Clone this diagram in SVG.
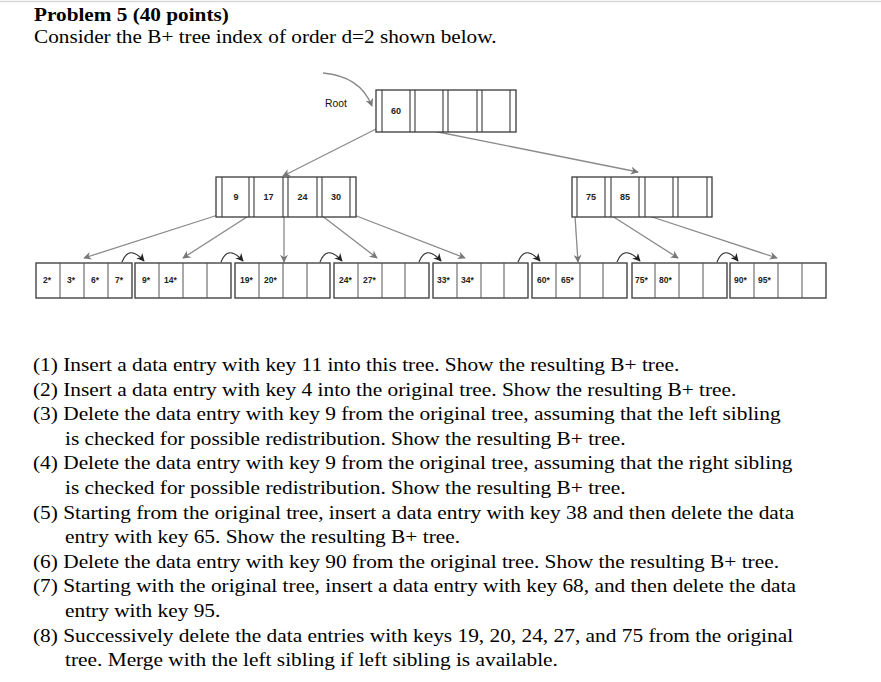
<svg xmlns="http://www.w3.org/2000/svg" width="881" height="682" viewBox="0 0 881 682">
<defs>
<style>
.bg{fill:#fff}
.q{font-family:"Liberation Serif","Times New Roman",serif;font-size:18.5px;fill:#000}
.h{font-family:"Liberation Serif","Times New Roman",serif;font-size:19.5px;fill:#000}
.box{fill:#fff;stroke:#3a3a3a;stroke-width:1.3}
.div{stroke:#3a3a3a;stroke-width:1.1}
.lbox{fill:#fff;stroke:#444;stroke-width:1.4}
.ldiv{stroke:#555;stroke-width:1}
.k{font-family:"Liberation Sans",Arial,sans-serif;font-size:9px;font-weight:bold;fill:#222;text-anchor:middle}
.lk{font-family:"Liberation Sans",Arial,sans-serif;font-size:8.5px;font-weight:bold;fill:#222}
.con{fill:none;stroke:#8a8a8a;stroke-width:1.3;marker-end:url(#ah)}
.sib{fill:none;stroke:#333;stroke-width:1.2;marker-end:url(#ah2)}
</style>
<marker id="ah" viewBox="0 0 10 10" refX="9" refY="5" markerWidth="9" markerHeight="8" markerUnits="userSpaceOnUse" orient="auto">
<path d="M0,0 L10,5 L0,10 L3,5 Z" fill="#777"/>
</marker>
<marker id="ah2" viewBox="0 0 10 10" refX="9" refY="5" markerWidth="8" markerHeight="8" markerUnits="userSpaceOnUse" orient="auto">
<path d="M0,0 L10,5 L0,10 L3,5 Z" fill="#222"/>
</marker>
</defs>
<rect class="bg" x="0" y="0" width="881" height="682"/>
<line x1="0" y1="1.5" x2="881" y2="1.5" stroke="#d8d8d8" stroke-width="1.5"/>

<g id="heading" transform="translate(34 0) scale(1.09 1) translate(-34 0)">
<text class="h" x="34" y="21" font-weight="bold">Problem 5 (40 points)</text>
<text class="h" x="34" y="43">Consider the B+ tree index of order d=2 shown below.</text>
</g>

<g id="root-label">
<text x="325" y="107" font-family="Liberation Sans,Arial,sans-serif" font-size="11.5" fill="#111" transform="translate(325 0) scale(0.9 1) translate(-325 0)">Root</text>
</g>

<g id="connectors">
<path class="con" d="M323,73 Q360,76 372,106"/>
<line class="con" x1="378" y1="128" x2="283" y2="176"/>
<line class="con" x1="413" y1="127" x2="638" y2="172"/>
<line class="con" x1="218" y1="215" x2="84" y2="258"/>
<line class="con" x1="250" y1="215" x2="183" y2="258"/>
<line class="con" x1="284" y1="216" x2="284" y2="262"/>
<line class="con" x1="321" y1="215" x2="377" y2="258"/>
<line class="con" x1="354" y1="215" x2="465" y2="258"/>
<line class="con" x1="575" y1="216" x2="578" y2="262"/>
<line class="con" x1="609" y1="214" x2="678" y2="258"/>
<line class="con" x1="643" y1="214" x2="777" y2="258"/>
<path class="sib" d="M122,262 Q129,244 144,261"/>
<path class="sib" d="M221,262 Q228,244 243,261"/>
<path class="sib" d="M320,262 Q327,244 342,261"/>
<path class="sib" d="M419,262 Q426,244 441,261"/>
<path class="sib" d="M518,262 Q525,244 540,261"/>
<path class="sib" d="M617,262 Q624,244 640,261"/>
<path class="sib" d="M717,262 Q724,244 738,261"/>
</g>

<g id="root">
<rect class="box" x="376" y="90" width="140" height="42"/>
<line class="div" x1="382" y1="90" x2="382" y2="132"/>
<line class="div" x1="410" y1="90" x2="410" y2="132"/>
<line class="div" x1="415" y1="90" x2="415" y2="132"/>
<line class="div" x1="443" y1="90" x2="443" y2="132"/>
<line class="div" x1="448" y1="90" x2="448" y2="132"/>
<line class="div" x1="477" y1="90" x2="477" y2="132"/>
<line class="div" x1="482" y1="90" x2="482" y2="132"/>
<line class="div" x1="510" y1="90" x2="510" y2="132"/>
<text class="k" x="396" y="114">60</text>
</g>

<g id="inner-left">
<rect class="box" x="216" y="177" width="140" height="40"/>
<line class="div" x1="222" y1="177" x2="222" y2="217"/>
<line class="div" x1="249" y1="177" x2="249" y2="217"/>
<line class="div" x1="254" y1="177" x2="254" y2="217"/>
<line class="div" x1="283" y1="177" x2="283" y2="217"/>
<line class="div" x1="288" y1="177" x2="288" y2="217"/>
<line class="div" x1="317" y1="177" x2="317" y2="217"/>
<line class="div" x1="322" y1="177" x2="322" y2="217"/>
<line class="div" x1="350" y1="177" x2="350" y2="217"/>
<text class="k" x="236" y="200">9</text>
<text class="k" x="268.5" y="200">17</text>
<text class="k" x="302.5" y="200">24</text>
<text class="k" x="336" y="200">30</text>
</g>

<g id="inner-right">
<rect class="box" x="572" y="177" width="140" height="40"/>
<line class="div" x1="577" y1="177" x2="577" y2="217"/>
<line class="div" x1="605" y1="177" x2="605" y2="217"/>
<line class="div" x1="611" y1="177" x2="611" y2="217"/>
<line class="div" x1="639" y1="177" x2="639" y2="217"/>
<line class="div" x1="645" y1="177" x2="645" y2="217"/>
<line class="div" x1="673" y1="177" x2="673" y2="217"/>
<line class="div" x1="678" y1="177" x2="678" y2="217"/>
<line class="div" x1="707" y1="177" x2="707" y2="217"/>
<text class="k" x="591" y="200">75</text>
<text class="k" x="625" y="200">85</text>
</g>

<g id="leaf1">
<rect class="lbox" x="36" y="263" width="96" height="35" stroke="#777"/>
<line class="ldiv" x1="60" y1="263" x2="60" y2="298"/>
<line class="ldiv" x1="84" y1="263" x2="84" y2="298"/>
<line class="ldiv" x1="108" y1="263" x2="108" y2="298"/>
<text class="lk" x="43" y="283">2*</text>
<text class="lk" x="67" y="283">3*</text>
<text class="lk" x="91" y="283">6*</text>
<text class="lk" x="115" y="283">7*</text>
</g>
<g id="leaf2">
<rect class="lbox" x="135" y="263" width="96" height="35" stroke="#777"/>
<line class="ldiv" x1="159" y1="263" x2="159" y2="298"/>
<line class="ldiv" x1="183" y1="263" x2="183" y2="298"/>
<line class="ldiv" x1="207" y1="263" x2="207" y2="298"/>
<text class="lk" x="142" y="283">9*</text>
<text class="lk" x="164" y="283">14*</text>
</g>
<g id="leaf3">
<rect class="lbox" x="235" y="263" width="95" height="35" stroke="#222"/>
<line class="ldiv" x1="259" y1="263" x2="259" y2="298"/>
<line class="ldiv" x1="283" y1="263" x2="283" y2="298"/>
<line class="ldiv" x1="307" y1="263" x2="307" y2="298"/>
<text class="lk" x="240" y="283">19*</text>
<text class="lk" x="264" y="283">20*</text>
</g>
<g id="leaf4">
<rect class="lbox" x="334" y="263" width="95" height="35" stroke="#888"/>
<line class="ldiv" x1="358" y1="263" x2="358" y2="298"/>
<line class="ldiv" x1="382" y1="263" x2="382" y2="298"/>
<line class="ldiv" x1="405" y1="263" x2="405" y2="298"/>
<text class="lk" x="339" y="283">24*</text>
<text class="lk" x="363" y="283">27*</text>
</g>
<g id="leaf5">
<rect class="lbox" x="433" y="263" width="95" height="35" stroke="#222"/>
<line class="ldiv" x1="457" y1="263" x2="457" y2="298"/>
<line class="ldiv" x1="481" y1="263" x2="481" y2="298"/>
<line class="ldiv" x1="504" y1="263" x2="504" y2="298"/>
<text class="lk" x="437" y="283">33*</text>
<text class="lk" x="461" y="283">34*</text>
</g>
<g id="leaf6">
<rect class="lbox" x="532" y="263" width="95" height="35" stroke="#333"/>
<line class="ldiv" x1="556" y1="263" x2="556" y2="298"/>
<line class="ldiv" x1="580" y1="263" x2="580" y2="298"/>
<line class="ldiv" x1="603" y1="263" x2="603" y2="298"/>
<text class="lk" x="537" y="283">60*</text>
<text class="lk" x="561" y="283">65*</text>
</g>
<g id="leaf7">
<rect class="lbox" x="632" y="263" width="95" height="35" stroke="#222"/>
<line class="ldiv" x1="655" y1="263" x2="655" y2="298"/>
<line class="ldiv" x1="679" y1="263" x2="679" y2="298"/>
<line class="ldiv" x1="703" y1="263" x2="703" y2="298"/>
<text class="lk" x="635" y="283">75*</text>
<text class="lk" x="659" y="283">80*</text>
</g>
<g id="leaf8">
<rect class="lbox" x="730" y="263" width="96" height="35" stroke="#222"/>
<line class="ldiv" x1="754" y1="263" x2="754" y2="298"/>
<line class="ldiv" x1="778" y1="263" x2="778" y2="298"/>
<line class="ldiv" x1="802" y1="263" x2="802" y2="298"/>
<text class="lk" x="734" y="283">90*</text>
<text class="lk" x="758" y="283">95*</text>
</g>

<g id="questions" transform="translate(33 0) scale(1.155 1) translate(-33 0)">
<text class="q" x="33" y="371">(1) Insert a data entry with key 11 into this tree. Show the resulting B+ tree.</text>
<text class="q" x="33" y="395.6">(2) Insert a data entry with key 4 into the original tree.  Show the resulting B+ tree.</text>
<text class="q" x="33" y="420.2">(3) Delete the data entry with key 9 from the original tree, assuming that the left sibling</text>
<text class="q" x="60.7" y="444.8">is checked for possible redistribution. Show the resulting B+ tree.</text>
<text class="q" x="33" y="469.4">(4) Delete the data entry with key 9 from the original tree, assuming that the right sibling</text>
<text class="q" x="60.7" y="494">is checked for possible redistribution. Show the resulting B+ tree.</text>
<text class="q" x="33" y="518.6">(5) Starting from the original tree, insert a data entry with key 38 and then delete the data</text>
<text class="q" x="60.7" y="543.2">entry with key 65. Show the resulting B+ tree.</text>
<text class="q" x="33" y="567.8">(6) Delete the data entry with key 90 from the original tree. Show the resulting B+ tree.</text>
<text class="q" x="33" y="592.4">(7) Starting with the original tree, insert a data entry with key 68, and then delete the data</text>
<text class="q" x="60.7" y="617">entry with key 95.</text>
<text class="q" x="33" y="641.6">(8) Successively delete the data entries with keys 19, 20, 24, 27, and 75 from the original</text>
<text class="q" x="60.7" y="666.2">tree. Merge with the left sibling if left sibling is available.</text>
</g>
</svg>
